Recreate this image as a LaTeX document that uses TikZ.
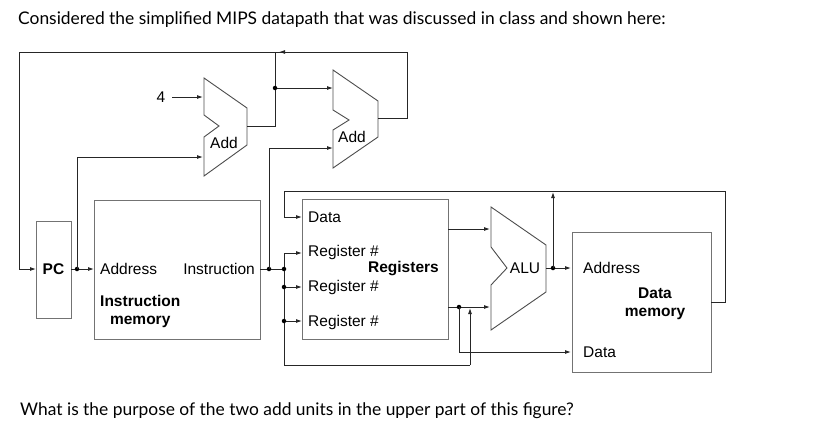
\documentclass[tikz,border=0pt]{standalone}
\usepackage{fontspec}
\setmainfont{Lato}
\newfontfamily\dfont{Liberation Sans}
\usetikzlibrary{arrows.meta}
\begin{document}
\begin{tikzpicture}[x=1pt,y=-1pt,
  box/.style={draw=black!55,line width=0.9pt,anchor=north west,inner sep=0pt},
  unit/.style={draw=black!70,line width=0.9pt},
  w/.style={draw=black!85,line width=0.9pt},
  a/.style={w,-{Latex[length=6pt,width=4pt]}},
  dot/.style={circle,fill=black,inner sep=0pt,minimum size=4.5pt},
  lbl/.style={font=\dfont\fontsize{15.5}{17}\selectfont,inner sep=0pt},
  blbl/.style={font=\dfont\bfseries\fontsize{15.5}{18}\selectfont,inner sep=0pt,align=center}]
\useasboundingbox (0,0) rectangle (814,431);
\node[anchor=west,inner sep=0pt,font=\fontsize{17.4}{20}\selectfont] (q1) at (18,20) {Considered the simplified MIPS datapath that was discussed in class and shown here:};
\node[anchor=west,inner sep=0pt,font=\fontsize{17.4}{20}\selectfont] (q2) at (20,411) {What is the purpose of the two add units in the upper part of this figure?};
% boxes
\node[box,minimum width=35pt,minimum height=97pt] (pc) at (36,221) {};
\node[lbl,font=\dfont\bfseries\fontsize{15.5}{17}\selectfont] at (53.5,269) {PC};
\node[box,minimum width=166pt,minimum height=139pt] (im) at (94,200) {};
\node[lbl,anchor=west] (addr) at (100,269) {Address};
\node[lbl,anchor=east] (instr) at (255,269) {Instruction};
\node[blbl,anchor=north west] (iml) at (100,295) {Instruction\\memory};
\node[box,minimum width=146pt,minimum height=140pt] (rf) at (302,199) {};
\node[lbl,anchor=west] (rd) at (308,217) {Data};
\node[lbl,anchor=west] (r1) at (308,252) {Register \#};
\node[blbl,anchor=east] (rl) at (439,269) {Registers};
\node[lbl,anchor=west] (r2) at (308,287) {Register \#};
\node[lbl,anchor=west] (r3) at (308,322) {Register \#};
\node[box,minimum width=139pt,minimum height=140pt] (dm) at (572,232) {};
\node[lbl,anchor=west] (da) at (583,268) {Address};
\node[blbl] (dml) at (655,304) {Data\\memory};
\node[lbl,anchor=west] (dd) at (583,352) {Data};
% adders and ALU
\draw[unit] (204,78) -- (247,108) -- (247,145) -- (204,176) -- (204,137) -- (219,126) -- (204,115) -- cycle;
\node[lbl] (add1) at (224,143) {Add};
\draw[unit] (333,70) -- (378,101) -- (378,137) -- (333,168) -- (333,130) -- (349,120) -- (333,110) -- cycle;
\node[lbl] (add2) at (352,137) {Add};
\draw[unit] (491,207) -- (546,245) -- (546,292) -- (491,330) -- (491,285) -- (507,268) -- (491,247) -- cycle;
\node[lbl] (alu) at (525,268) {ALU};
% constants / coordinates
\node[lbl] (four) at (161,97) {4};
\draw[a] (172,97) -- (203,97);
% PC path
\draw[w] (378,118) -- (407,118) -- (407,52) -- (275,52);
\draw[a] (300,52) -- (279,52);
\draw[w] (279,52) -- (19,52) -- (19,269);
\draw[a] (19,269) -- (36,269);
\draw[w] (247,126) -- (275,126) -- (275,52);
\draw[a] (275,88) -- (333,88);
\node[dot] (j1) at (275,88) {};
\draw[a] (71,269) -- (94,269);
\node[dot] (j2) at (77,269) {};
\draw[a] (77,269) -- (77,157) -- (203,157);
% instruction
\draw[w] (260,269) -- (284,269);
\node[dot] (j3) at (269,269) {};
\draw[a] (269,269) -- (269,148) -- (333,148);
\draw[a] (284,253) -- (302,253);
\draw[w] (284,253) -- (284,365) -- (470,365);
\draw[a] (284,287) -- (302,287);
\draw[a] (284,321) -- (302,321);
\node[dot] (j4) at (284,269) {};
\node[dot] (j5) at (284,287) {};
\node[dot] (j6) at (284,321) {};
\draw[a] (470,365) -- (470,308);
% data write-back
\draw[w] (711,302) -- (725,302) -- (725,191) -- (284,191) -- (284,217);
\draw[a] (284,217) -- (302,217);
% register outputs
\draw[a] (448,229) -- (490,229);
\draw[a] (448,307) -- (490,307);
\node[dot] (j7) at (459,307) {};
\draw[a] (459,307) -- (459,352) -- (571,352);
% ALU output
\draw[a] (546,268) -- (571,268);
\node[dot] (j8) at (553,268) {};
\draw[a] (553,268) -- (553,192);
\end{tikzpicture}
\end{document}
